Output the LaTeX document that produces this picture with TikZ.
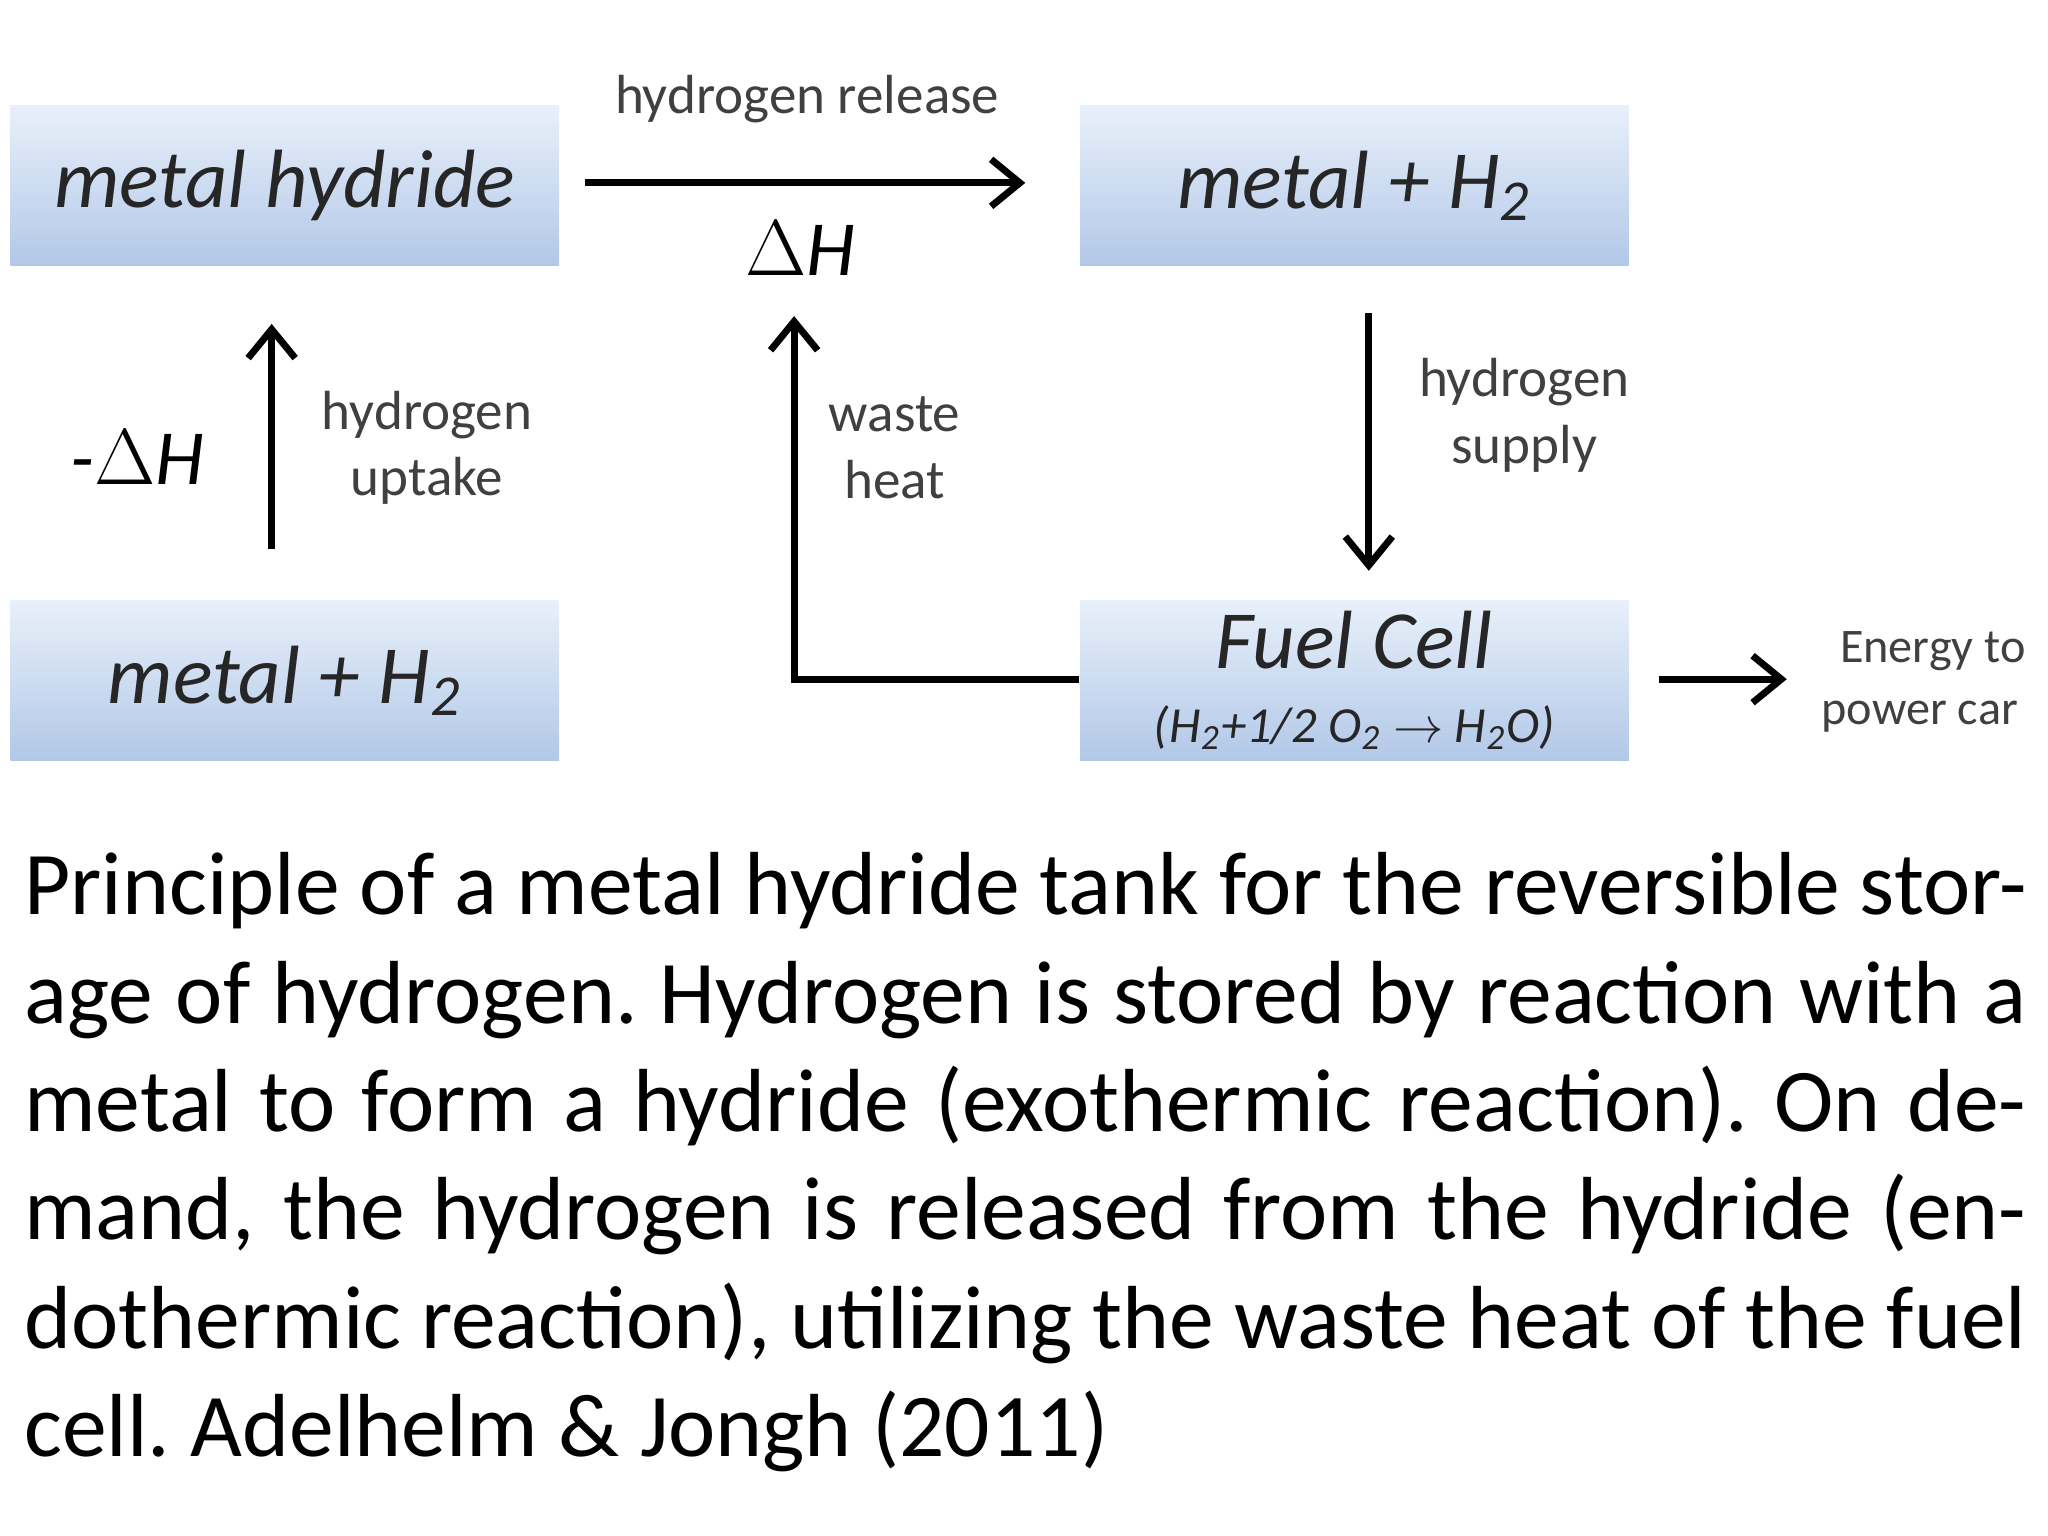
\documentclass[tikz,border=0pt]{standalone}
\usepackage{fontspec}
\setmainfont{Carlito}
\usetikzlibrary{arrows.meta}
\definecolor{boxtop}{RGB}{232,240,250}
\definecolor{boxbot}{RGB}{178,200,232}
\tikzset{
  box/.style={rectangle, minimum width=4.2cm, minimum height=1.22cm, inner sep=1pt, top color=boxtop, bottom color=boxbot, draw=none, font=\fontsize{18}{20}\selectfont\itshape, text=black!85},
  lbl/.style={font=\fontsize{12}{14.5}\selectfont, text=black!75, align=center},
  arr/.style={line width=1.5pt, -{Straight Barb[length=2.2mm,width=3.6mm]}}
}
\begin{document}
\begin{tikzpicture}[x=0.01cm,y=-0.01cm]
\useasboundingbox (0,0) rectangle (1568,1176);
\clip (0,0) rectangle (1568,1176);
\node[box] (mh) at (218,142) {metal hydride};
\node[box] (mt) at (1037,142) {metal + H\textsubscript{2}};
\node[box] (mb) at (218,521) {metal + H\textsubscript{2}};
\node[box, align=center] (fc) at (1037,521) {Fuel Cell\\[-4pt]{\fontsize{11}{12}\selectfont (H\textsubscript{2}+1/2 O\textsubscript{2} $\rightarrow$ H\textsubscript{2}O)}};
\coordinate (a1) at (448,140); \coordinate (a2) at (785,140);
\draw[arr] (a1) -- (a2);
\node[lbl] (hr) at (618,76) {hydrogen release};
\node[font=\fontsize{17}{19}\selectfont\itshape] (dh) at (613,190) {$\Delta$\textit{H}};
\coordinate (u1) at (208,420); \coordinate (u2) at (208,248);
\draw[arr] (u1) -- (u2);
\node[font=\fontsize{17}{19}\selectfont\itshape] (mdh) at (105,350) {-$\Delta$\textit{H}};
\node[lbl] (hu) at (327,343) {hydrogen\\uptake};
\coordinate (w1) at (608,520); \coordinate (w2) at (608,242);
\draw[arr] (fc.west |- w1) -- (w1) -- (w2);
\node[lbl] (wh) at (685,343) {waste\\heat};
\coordinate (d1) at (1048,240); \coordinate (d2) at (1048,437);
\draw[arr] (d1) -- (d2);
\node[lbl] (hs) at (1167,318) {hydrogen\\supply};
\coordinate (e1) at (1270,520); \coordinate (e2) at (1368,520);
\draw[arr] (e1) -- (e2);
\node[lbl, anchor=west, align=left, font=\fontsize{10.5}{13.5}\selectfont, inner sep=0pt] (en) at (1394,522) {\hspace*{4pt}Energy to\\power car};
\node[anchor=north west, text width=15.32cm, align=justify, inner sep=0pt,
  font=\fontsize{19.5}{23.6}\selectfont] (cap) at (18,652)
{\lefthyphenmin=64 \righthyphenmin=64 \frenchspacing Principle of a metal hydride tank for the reversible storage of hydrogen. Hydrogen is stored by reaction with a metal to form a hydride (exothermic reaction). On demand, the hydrogen is released from the hydride (endothermic reaction), utilizing the waste heat of the fuel cell. Adelhelm \& Jongh (2011)};
\end{tikzpicture}
\end{document}
